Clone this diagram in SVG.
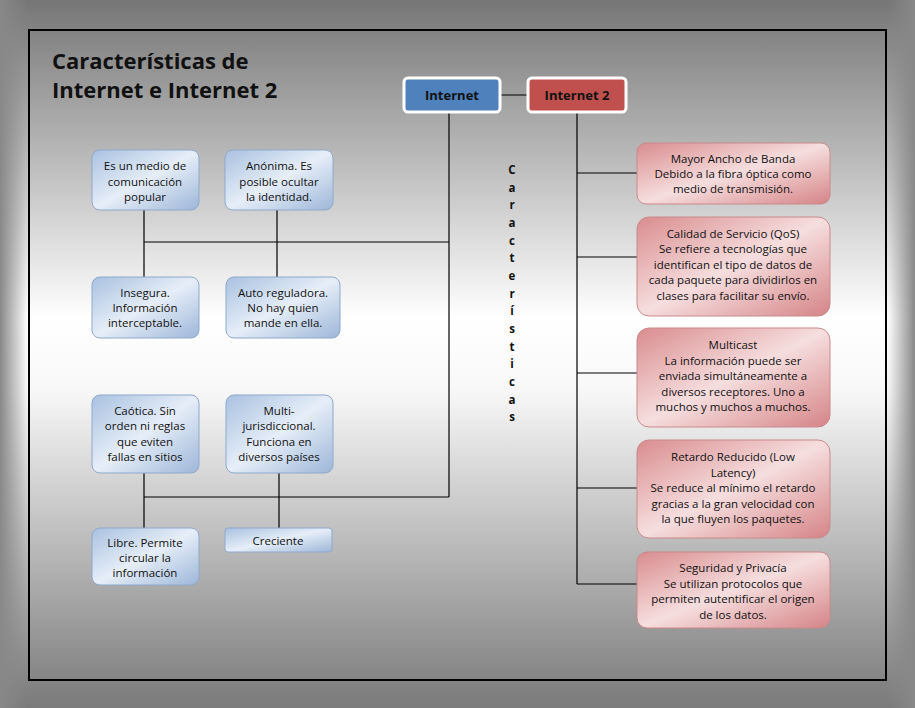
<svg xmlns="http://www.w3.org/2000/svg" width="915" height="708" viewBox="0 0 915 708">
<defs>
<linearGradient id="bg" x1="0" y1="0" x2="0" y2="1"><stop offset="0" stop-color="#767676"/><stop offset="0.45" stop-color="#ffffff"/><stop offset="0.55" stop-color="#f8f8f8"/><stop offset="1" stop-color="#7a7a7a"/></linearGradient>
<linearGradient id="bg2" x1="0" y1="0" x2="1" y2="0"><stop offset="0" stop-color="#888"/><stop offset="0.03" stop-color="#888" stop-opacity="0"/><stop offset="0.97" stop-color="#888" stop-opacity="0"/><stop offset="1" stop-color="#888"/></linearGradient>
<linearGradient id="blue" x1="0" y1="0" x2="1" y2="1"><stop offset="0" stop-color="#a9c1e0"/><stop offset="0.5" stop-color="#e6eef8"/><stop offset="1" stop-color="#9db6d8"/></linearGradient>
<linearGradient id="red" x1="0" y1="0" x2="1" y2="1"><stop offset="0" stop-color="#d98c8f"/><stop offset="0.5" stop-color="#f6dede"/><stop offset="1" stop-color="#d58487"/></linearGradient>
<style>
.b{fill:url(#blue);stroke:#8fa9cc;stroke-width:1}
.r{fill:url(#red);stroke:#c98a8c;stroke-width:1}
text{font-family:"Open Sans","DejaVu Sans",sans-serif;font-size:11.5px;fill:#111;text-anchor:middle}
.h{font-weight:bold;font-size:13px}
.c{stroke:#000;stroke-width:1.2;fill:none}
</style>
</defs>
<rect width="915" height="708" fill="url(#bg)"/>
<rect width="915" height="708" fill="url(#bg2)"/>
<rect x="29" y="30" width="857" height="650" fill="none" stroke="#000" stroke-width="2"/>
<text x="52" y="69" style="font-size:22px;font-weight:bold;text-anchor:start">Características de</text>
<text x="52" y="98" style="font-size:22px;font-weight:bold;text-anchor:start">Internet e Internet 2</text>
<g id="connectors" class="c">
<path d="M449 112V497M144 242H449M144 210V277M277 210V277M144 497H449M144 473V528M279 473V528M500 95H528M577 112V584M577 173H637M577 257H637M577 373H637M577 488H637M577 584H637"/>
</g>
<g id="internet"><rect x="404" y="78" width="96" height="34" rx="4" fill="#4f81bd" stroke="#fff" stroke-width="3"/><text class="h" x="452" y="100">Internet</text></g>
<g id="internet2"><rect x="528" y="78" width="98" height="34" rx="4" fill="#c0504d" stroke="#fff" stroke-width="3"/><text class="h" x="577" y="100">Internet 2</text></g>
<g id="vlabel" style="font-weight:bold;font-size:11px">
<text x="512" y="174">C</text><text x="512" y="192">a</text><text x="512" y="209">r</text><text x="512" y="227">a</text><text x="512" y="245">c</text><text x="512" y="262">t</text><text x="512" y="280">e</text><text x="512" y="298">r</text><text x="512" y="315">í</text><text x="512" y="333">s</text><text x="512" y="351">t</text><text x="512" y="368">i</text><text x="512" y="386">c</text><text x="512" y="404">a</text><text x="512" y="421">s</text>
</g>
<g id="n1"><rect class="b" x="92" y="150" width="107" height="60" rx="8"/><text x="145" y="170">Es un medio de</text><text x="145" y="186">comunicación</text><text x="145" y="201">popular</text></g>
<g id="n2"><rect class="b" x="225" y="150" width="108" height="60" rx="8"/><text x="279" y="170">Anónima. Es</text><text x="279" y="186">posible ocultar</text><text x="279" y="201">la identidad.</text></g>
<g id="n3"><rect class="b" x="92" y="277" width="107" height="61" rx="8"/><text x="145" y="297">Insegura.</text><text x="145" y="312">Información</text><text x="145" y="327">interceptable.</text></g>
<g id="n4"><rect class="b" x="226" y="277" width="114" height="61" rx="8"/><text x="283" y="297">Auto reguladora.</text><text x="283" y="312">No hay quien</text><text x="283" y="327">mande en  ella.</text></g>
<g id="n5"><rect class="b" x="92" y="395" width="107" height="78" rx="8"/><text x="145" y="415">Caótica. Sin</text><text x="145" y="430">orden ni reglas</text><text x="145" y="446">que eviten</text><text x="145" y="461">fallas en sitios</text></g>
<g id="n6"><rect class="b" x="226" y="395" width="107" height="78" rx="8"/><text x="279" y="415">Multi-</text><text x="279" y="430">jurisdiccional.</text><text x="279" y="446">Funciona en</text><text x="279" y="461">diversos países</text></g>
<g id="n7"><rect class="b" x="92" y="528" width="107" height="57" rx="8"/><text x="145" y="547">Libre. Permite</text><text x="145" y="562">circular la</text><text x="145" y="577">información</text></g>
<g id="n8"><rect class="b" x="225" y="528" width="107" height="24" rx="3"/><text x="278" y="545">Creciente</text></g>
<g id="r1"><rect class="r" x="637" y="143" width="193" height="61" rx="9"/><text x="733" y="163">Mayor Ancho de Banda</text><text x="733" y="178">Debido a la fibra óptica como</text><text x="733" y="193">medio de transmisión.</text></g>
<g id="r2"><rect class="r" x="637" y="217" width="193" height="99" rx="12"/><text x="733" y="238">Calidad de Servicio (QoS)</text><text x="733" y="253">Se refiere a tecnologías que</text><text x="733" y="269">identifican el tipo de datos de</text><text x="733" y="284">cada paquete para dividirlos en</text><text x="733" y="300">clases para facilitar su envío.</text></g>
<g id="r3"><rect class="r" x="637" y="328" width="193" height="99" rx="12"/><text x="733" y="349">Multicast</text><text x="733" y="365">La información puede ser</text><text x="733" y="380">enviada simultáneamente a</text><text x="733" y="396">diversos receptores. Uno a</text><text x="733" y="411">muchos y muchos a muchos.</text></g>
<g id="r4"><rect class="r" x="637" y="440" width="193" height="98" rx="12"/><text x="733" y="461">Retardo Reducido (Low</text><text x="733" y="477">Latency)</text><text x="733" y="492">Se reduce al mínimo el retardo</text><text x="733" y="508">gracias a la gran velocidad con</text><text x="733" y="523">la que fluyen los paquetes.</text></g>
<g id="r5"><rect class="r" x="637" y="552" width="193" height="76" rx="10"/><text x="733" y="572">Seguridad y Privacía</text><text x="733" y="588">Se utilizan protocolos que</text><text x="733" y="603">permiten autentificar el origen</text><text x="733" y="619">de los datos.</text></g>
</svg>
